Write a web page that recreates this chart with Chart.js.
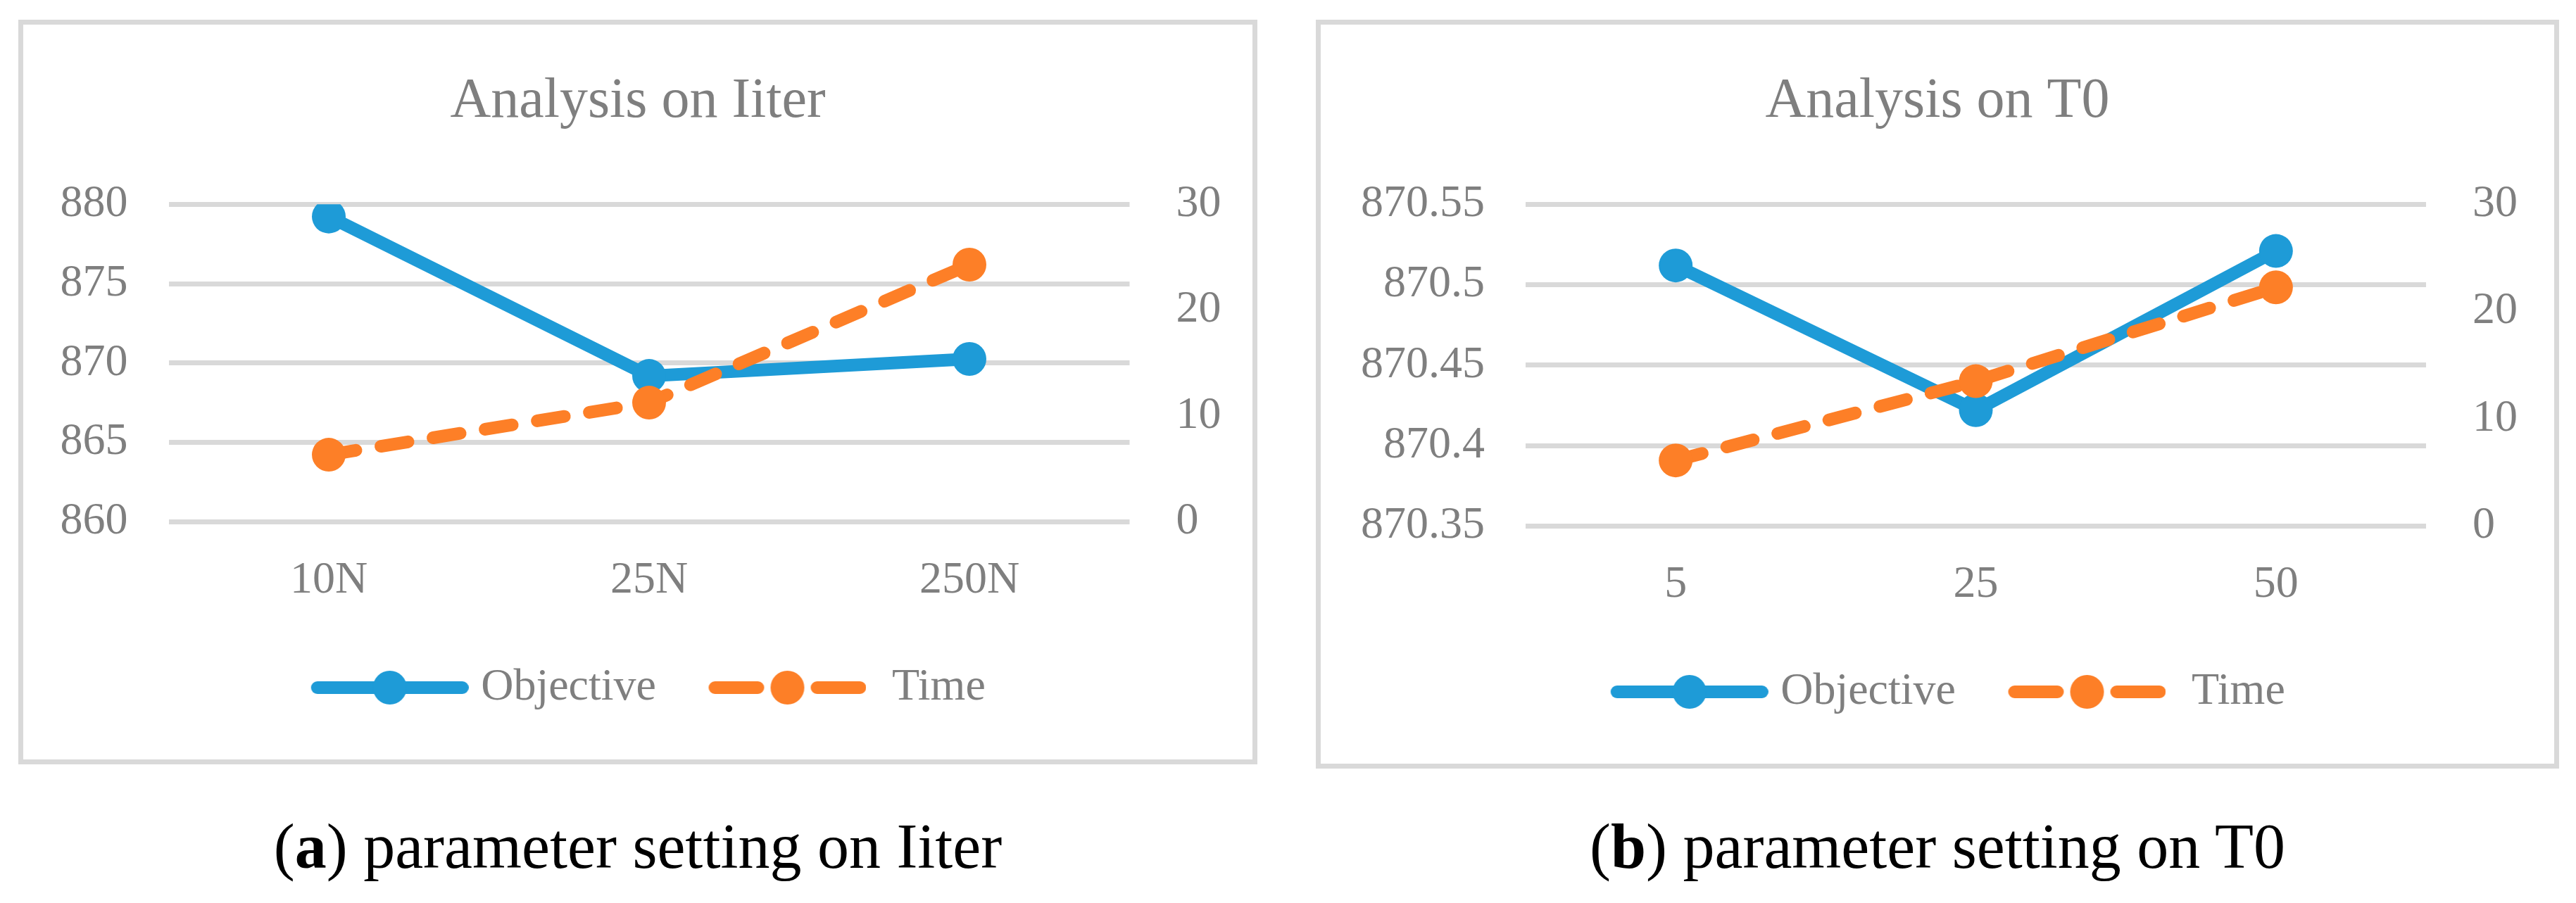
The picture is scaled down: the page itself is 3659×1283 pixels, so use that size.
<!DOCTYPE html>
<html>
<head>
<meta charset="utf-8">
<script src="https://cdn.jsdelivr.net/npm/chart.js@4.4.1/dist/chart.umd.min.js"></script>
<style>
  html, body { margin: 0; padding: 0; background: #fff; }
  body { width: 3659px; height: 1283px; position: relative; overflow: hidden;
         font-family: 'Liberation Serif', 'Times New Roman', serif; }
  .panel { position: absolute; border: 7px solid #d9d9d9; box-sizing: border-box; background: #fff; }
  .panel canvas { display: block; }
  .caption { position: absolute; font-size: 90px; line-height: 90px; color: #000;
             white-space: nowrap; transform: translateX(-50%); }
</style>
</head>
<body>
<div class="panel" style="left:26px; top:28px; width:1760px; height:1058px;">
  <canvas id="chartIter" width="1746" height="1044"></canvas>
</div>
<div class="panel" style="left:1869px; top:28px; width:1766px; height:1064px;">
  <canvas id="chartT0" width="1752" height="1050"></canvas>
</div>
<div class="caption" style="left:906px; top:1158px;">(<b>a</b>) parameter setting on Iiter</div>
<div class="caption" style="left:2752px; top:1158px;">(<b>b</b>) parameter setting on T0</div>

<script>
// data
const iterLabels = ["10N", "25N", "250N"];
const iterObjective = [879.23, 869.19, 870.26];
const iterTime = [6.34, 11.26, 24.3];
const iterObjTicks = ["860", "865", "870", "875", "880"];

const t0Labels = ["5", "25", "50"];
const t0Objective = [870.512, 870.422, 870.521];
const t0Time = [6.12, 13.51, 22.26];
const t0ObjTicks = ["870.35", "870.4", "870.45", "870.5", "870.55"];

const timeTicks = ["0", "10", "20", "30"];

const BLUE = "#1e9bd7";
const ORANGE = "#fd7f27";
const GRAY = "#7f7f7f";
const GRID = "#d9d9d9";

Chart.defaults.font.family = "'Liberation Serif', 'Times New Roman', serif";

// line + marker sample for the legend; dx moves the sample sideways inside the image
function legendIcon(color, dashed, dx) {
    const c = document.createElement("canvas");
    c.width = 224 + 2 * Math.abs(dx);
    c.height = 52;
    const ox = dx > 0 ? 2 * dx : 0;
    const g = c.getContext("2d");
    g.strokeStyle = color;
    g.fillStyle = color;
    g.lineWidth = 18;
    g.lineCap = "round";
    g.beginPath();
    if (dashed) {
        g.moveTo(ox + 9, 26); g.lineTo(ox + 70, 26);
        g.moveTo(ox + 154, 26); g.lineTo(ox + 215, 26);
    } else {
        g.moveTo(ox + 9, 26); g.lineTo(ox + 215, 26);
    }
    g.stroke();
    g.beginPath();
    g.arc(ox + 112, 26, 24, 0, Math.PI * 2);
    g.fill();
    return c;
}

const icons = [legendIcon(BLUE, false, 22), legendIcon(ORANGE, true, 3)];

function makeChart(id, title, labels, objective, time, objTicks, leftWidth, rightWidth) {
    return new Chart(document.getElementById(id), {
        type: "line",
        data: {
            labels: labels,
            datasets: [
                {
                    label: "Objective",
                    data: objective,
                    yAxisID: "y",
                    borderColor: BLUE,
                    backgroundColor: BLUE,
                    borderWidth: 18,
                    pointRadius: 24,
                    pointBorderWidth: 0,
                    pointBackgroundColor: BLUE,
                    order: 2
                },
                {
                    label: "Time",
                    data: time,
                    yAxisID: "y1",
                    borderColor: ORANGE,
                    backgroundColor: ORANGE,
                    borderWidth: 18,
                    borderDash: [39, 36],
                    borderCapStyle: "round",
                    pointRadius: 24,
                    pointBorderWidth: 0,
                    pointBackgroundColor: ORANGE,
                    order: 1
                }
            ]
        },
        options: {
            responsive: false,
            animation: false,
            devicePixelRatio: 1,
            layout: { padding: { left: 0, right: 0, top: 0, bottom: 60 } },
            plugins: {
                title: {
                    display: true,
                    text: title,
                    color: GRAY,
                    font: { size: 80, weight: "normal" },
                    padding: { top: 62, bottom: 97.3 }
                },
                legend: {
                    position: "bottom",
                    labels: {
                        usePointStyle: true,
                        pointStyleWidth: 239,
                        padding: 64,
                        color: GRAY,
                        font: { size: 64 },
                        generateLabels: chart => chart.data.datasets.map((ds, i) => ({
                            text: ds.label,
                            pointStyle: icons[i],
                            fillStyle: ds.borderColor,
                            strokeStyle: ds.borderColor,
                            fontColor: GRAY,
                            lineWidth: 0,
                            hidden: false,
                            datasetIndex: i
                        }))
                    }
                },
                tooltip: { enabled: false }
            },
            scales: {
                x: {
                    offset: true,
                    grid: { display: false, drawTicks: false },
                    border: { display: false },
                    ticks: { color: GRAY, font: { size: 64 }, padding: 45 },
                    afterFit: s => { s.height = 139.6; }
                },
                y: {
                    position: "left",
                    min: parseFloat(objTicks[0]),
                    max: parseFloat(objTicks[objTicks.length - 1]),
                    grid: { color: GRID, lineWidth: 7, drawTicks: false },
                    border: { display: false },
                    afterBuildTicks: s => { s.ticks = objTicks.map(t => ({ value: parseFloat(t) })); },
                    ticks: {
                        color: GRAY,
                        font: { size: 64 },
                        padding: 58,
                        callback: (v, i) => objTicks[i]
                    },
                    afterFit: s => { s.width = leftWidth; }
                },
                y1: {
                    position: "right",
                    min: 0,
                    max: 30,
                    grid: { display: false, drawTicks: false },
                    border: { display: false },
                    afterBuildTicks: s => { s.ticks = timeTicks.map(t => ({ value: parseFloat(t) })); },
                    ticks: {
                        color: GRAY,
                        font: { size: 64 },
                        padding: 66,
                        callback: (v, i) => timeTicks[i]
                    },
                    afterFit: s => { s.width = rightWidth; }
                }
            }
        }
    });
}

makeChart("chartIter", "Analysis on Iiter", iterLabels, iterObjective, iterTime, iterObjTicks, 206.5, 174.5);
makeChart("chartT0", "Analysis on T0", t0Labels, t0Objective, t0Time, t0ObjTicks, 291, 182);
</script>
</body>
</html>
